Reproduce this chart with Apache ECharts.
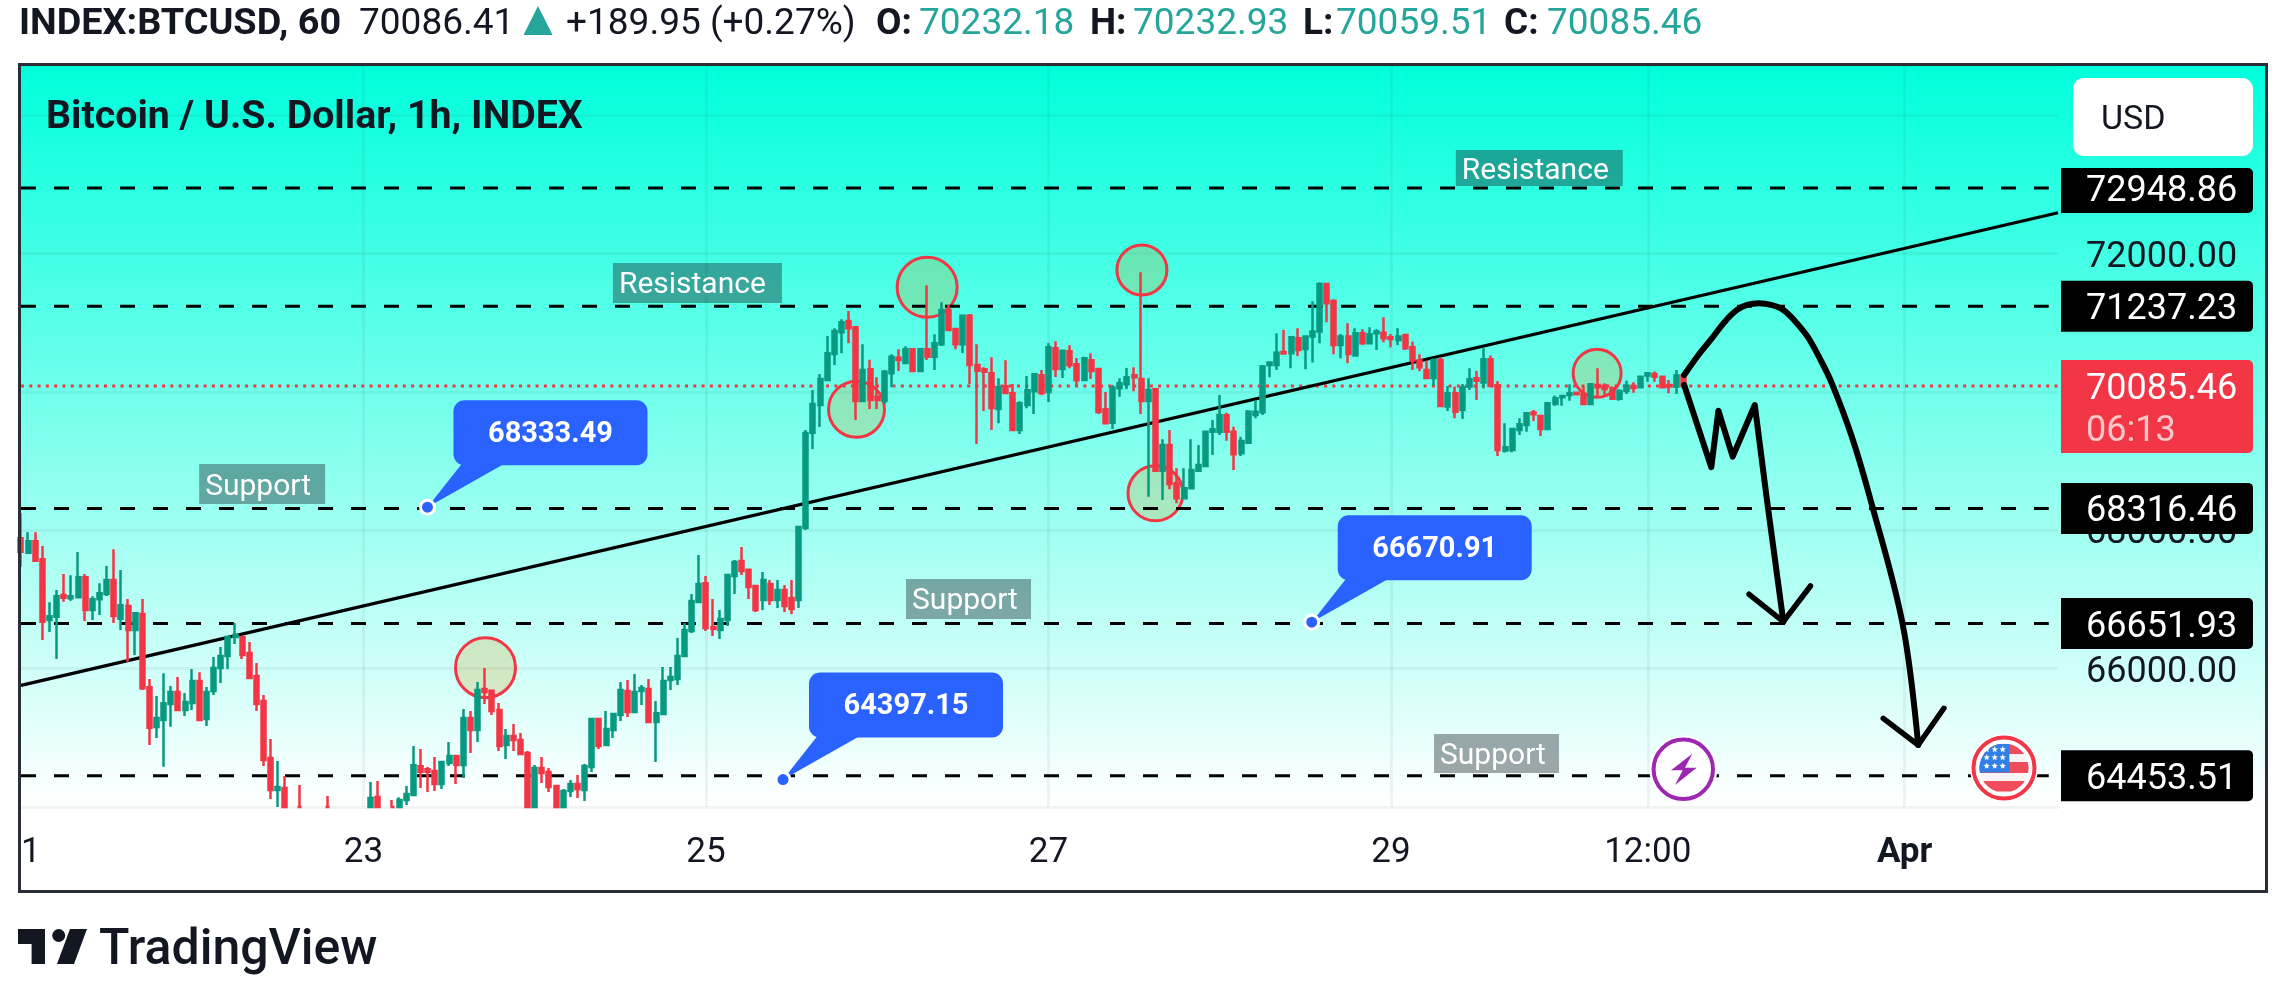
<!DOCTYPE html>
<html><head><meta charset="utf-8">
<style>html,body{margin:0;padding:0;background:#fff}#c{width:2283px;height:1002px}</style>
<script src="https://cdn.jsdelivr.net/npm/echarts@6/dist/echarts.min.js"></script>
</head><body><div id="c"></div>
<script>
const opens=[67884,67677,67840,67580,66703,66751,67065,67016,67031,67320,
66848,67002,67079,67282,66723,66906,66559,66790,65730,65156,
65258,65489,65662,65402,65503,65821,65272,65677,66009,66183,
66458,66458,66226,65894,65532,64708,64246,64275,63750,63700,
63900,63800,63720,63780,63900,63820,63750,63700,63760,63800,
64145,63830,63850,63950,64101,64173,64588,64544,64520,64333,
64636,64737,64607,65287,65113,65706,65682,65402,64896,65026,
64969,64781,63950,64564,64506,64304,63950,64231,64333,64246,
64578,65272,64896,65113,65330,65677,65373,65677,65706,65229,
65344,65836,65850,66183,66544,66963,67233,66602,66559,66703,
67339,67556,67431,67195,66992,67224,66992,67137,67021,66992,
68033,69411,69811,70173,70548,70862,71025,70934,69869,70327,
69932,69869,70269,70495,70418,70616,70303,70616,70510,70688,
71185,70910,70688,71103,70389,70327,70269,69753,70081,69980,
69450,69811,70009,70240,69999,70630,70332,70587,70399,70173,
70457,70332,69749,69556,70052,70110,70240,70187,69869,70038,
68862,69233,68679,68462,68606,68862,68929,69426,69426,69662,
69426,69112,69267,69667,69706,70390,70390,70578,70559,70775,
70621,70800,70872,71561,71315,70679,70800,70525,70848,70703,
70848,70857,70790,70751,70824,70645,70453,70318,70202,70462,
69788,69980,69739,70077,70197,70135,70472,70096,69152,69161,
69450,69523,69701,69653,69465,69826,69923,69956,69990,69971,
69826,70101,70091,70053,69903,70014,70086,70067,70236,70260,
70221,70101,70077,70232.18];
const closes=[67691,67840,67561,66679,66756,67045,67026,67045,67320,66848,
67002,67089,67282,66761,66915,66559,66800,65715,65147,65287,
65499,65662,65402,65518,65821,65258,65662,66009,66183,66458,
66486,66197,65865,65489,64679,64246,64289,63750,63700,63900,
63800,63720,63780,63900,63820,63750,63700,63760,63830,64130,
63830,63900,63990,64101,64188,64602,64511,64511,64333,64650,
64737,64607,65287,65113,65691,65662,65388,64882,65026,64969,
64766,63900,64564,64491,64289,63950,64231,64333,64260,64593,
65272,64882,65128,65344,65691,65373,65662,65720,65229,65354,
65821,65879,66183,66559,66978,67224,66588,66573,66718,67354,
67542,67412,67180,66848,67282,66992,67137,66906,66862,68048,
69407,69826,70187,70558,70881,71006,70919,69869,70317,69883,
69883,70293,70510,70462,70616,70303,70616,70510,70703,71185,
70895,70688,71103,70389,70307,70293,69768,70067,69985,69450,
69835,70023,70254,69980,70645,70332,70597,70385,70168,70486,
70303,69710,69546,70062,70124,70211,70211,69869,70028,68862,
69233,68669,68462,68606,68872,68944,69426,69459,69667,69426,
69098,69291,69715,69715,70366,70424,70568,70554,70790,70607,
70800,70872,71561,71281,70679,70800,70549,70848,70703,70833,
70872,70775,70766,70800,70631,70453,70356,70202,70462,69797,
69980,69715,70067,70183,70163,70472,70086,69161,69200,69465,
69532,69691,69677,69465,69836,69908,69942,69980,69966,69826,
70110,70067,70043,69903,70014,70091,70057,70221,70270,70221,
70067,70077,70236,70085.46];
const lows=[67474,67677,67561,66414,66530,66139,66968,66983,67031,66689,
66703,66776,67050,66660,66559,66101,66197,65691,64896,64997,
64583,65161,65388,65315,65402,65243,65171,65619,65793,65995,
66356,66139,65850,65388,64593,64116,63800,63600,63500,63550,
63650,63600,63550,63650,63700,63620,63560,63580,63650,63700,
63700,63720,63760,63850,64029,64173,64275,64217,64231,64260,
64593,64333,64419,64781,64940,65489,65330,64810,64694,64810,
64766,63800,63850,64347,64217,63850,63860,64145,64130,64087,
64506,64838,64896,64997,65243,65301,65359,65475,65214,64650,
65344,65691,65764,66183,66515,66963,66544,66472,66429,66617,
67079,67354,67007,66819,66848,66920,66877,66819,66790,66877,
68004,69175,69493,70173,70389,70558,70703,69594,69869,69753,
69753,69826,70067,70303,70418,70303,70303,70462,70317,70664,
70895,70616,70563,70115,69247,69724,69450,69546,69985,69450,
69392,69763,69681,69956,69855,70216,70201,70341,70081,70173,
70187,69681,69537,69464,69932,70038,70009,69681,68486,68862,
68438,68592,68390,68447,68606,68862,68929,69088,69377,69296,
68872,69074,69267,69619,69667,70212,70318,70554,70342,70520,
70327,70424,70703,71007,70544,70486,70414,70515,70679,70694,
70607,70718,70645,70679,70607,70318,70298,70202,70086,69788,
69725,69619,69609,70029,69884,70053,70067,69074,69123,69128,
69378,69426,69580,69364,69465,69802,69802,69874,69956,69826,
69826,69932,69952,69893,69874,69971,69990,70062,70149,70149,
70053,69980,69971,70059.51];
const highs=[68245,67971,67971,67773,66959,67137,67368,67349,67686,67368,
67045,67233,67484,67725,67426,67007,66819,67007,65850,65605,
65932,65749,65879,65648,65995,65947,65735,66168,66313,66472,
66660,66458,66385,66082,65619,64983,64665,64448,63950,64318,
63980,63950,63960,64159,63970,63930,63900,63920,63960,64361,
64376,63990,64101,64140,64304,64882,64838,64578,64723,64650,
64940,64737,65417,65388,65807,66009,65691,65503,65128,65200,
65070,64810,64607,64723,64564,64304,64260,64390,64463,64622,
65272,65272,65388,65354,65807,65836,65923,65764,65850,65532,
66024,66024,66443,66660,67079,67643,67339,67007,66848,67368,
67571,67759,67441,67195,67397,67282,67282,67209,67282,68048,
69450,70028,70259,70809,70919,71050,71170,70948,70688,70467,
70211,70317,70544,70616,70659,70616,70616,71541,70833,71295,
71257,70919,71112,71127,70688,70356,70500,70197,70457,70115,
69864,70230,70259,70317,70703,70732,70597,70674,70491,70510,
70558,70332,69999,70100,70197,70346,70356,71729,70197,70052,
69315,69450,68896,68896,69315,69233,69435,69594,69956,69700,
69498,69353,69739,69884,70390,70438,70848,70896,70800,70920,
70800,71310,71585,71571,71339,70838,70992,70920,70906,70934,
70906,71079,70838,70920,70833,70727,70544,70453,70482,70501,
70086,70077,70115,70342,70303,70631,70525,70159,69547,69474,
69619,69691,69739,69667,69845,69947,69952,70110,69990,70077,
70125,70342,70125,70077,70038,70163,70139,70231,70270,70294,
70231,70173,70318,70232.93];

// hours since 21 Mar 00:00
const tickHours=[0,48,96,144,192,228,264];
const tickLabels=['1','23','25','27','29','12:00','Apr'];
const barCount=286;
const hourLabels=[];
for(let i=0;i<barCount;i++){const d=new Date(Date.UTC(2024,2,21,i));hourLabels.push(d.toISOString().slice(5,16));}

const priceFloor=64000;
const levelPrices=[72948.86,71237.23,68316.46,66651.93,64453.51];
const levelEndHour=284.2;
const lastPrice=70085.46;
const trendLine=[[0,65759],[285.5,72591]];
const domeCurve=[[233.1,70245],[235.1,70534],[236.8,70751],[238.8,71016],[240.5,71185],[241.9,71257],[243.6,71281],[245.3,71257],[247,71185],[248.7,71016],[250.4,70799],[252.1,70486],[253.8,70125],[256.6,69353],[259.1,68486],[263.7,66656],[265.9,64896]];
const domeArrow=[[261.0,65282],[265.9,64896],[269.5,65427]];
const zigzag=[[233.1,70100],[236.9,68911],[237.9,69729],[239.9,69064],[243.0,69811],[244.7,68438],[247.0,66679]];
const zigzagArrow=[[242.2,67075],[247.0,66679],[250.8,67195]];
const circleHours=[127,117.1,157.1,159,220.9,65.1];
const circlePrices=[71513,69749,71763,68535,70270,66014];
const circleSizes=[60,56,50,55,48,60];
const tagTexts=['Resistance','Resistance','Support','Support','Support'];
const tagHours=[94.8,212.8,33.8,132.8,206.8];
const tagPrices=[71575,73237,68669,67007,64773];
const calloutHours=[56.97,180.9,106.8];
const calloutPrices=[68333.49,66670.91,64397.15];
const axisTagPrices=[72948.86,71237.23,68316.46,66651.93,64453.51,70085.46];

const FONT='Roboto, "Noto Sans", sans-serif';
const INK='#131722', GREEN='#089981', RED='#f23645', TEAL='#26a69a', BLUE='#2962ff';

const tagGeom=[[-20,25],[-25.5,25.5],[-25.5,25.5],[-25.5,25.5],[-25.5,25.5],[-26,67]];
function axisTagItem(params,api){
  const i=params.dataIndex, c=api.coord([api.value(0),api.value(1)]), g=tagGeom[i], isLast=i===5;
  const x0=2061,x1=2253,t=c[1]+g[0],b=c[1]+g[1];
  const kids=[{type:'rect',shape:{x:x0,y:t,width:x1-x0,height:b-t,r:[0,5,5,0]},style:{fill:isLast?RED:'#000'}},
    {type:'text',style:{x:2086,y:c[1]+4,text:axisTagPrices[i].toFixed(2),fill:'#fff',font:'400 36px '+FONT,textAlign:'left',textVerticalAlign:'middle'}}];
  if(isLast)kids.push({type:'text',style:{x:2086,y:c[1]+46,text:'06:13',fill:'rgba(255,255,255,.72)',font:'400 36px '+FONT,textAlign:'left',textVerticalAlign:'middle'}});
  return {type:'group',children:kids};
}
const tagW=[169,167,126,125,125],tagH=[40,36,40,40,39];
function tagItem(params,api){
  const i=params.dataIndex,c=api.coord([api.value(0),api.value(1)]);
  return {type:'group',children:[
    {type:'rect',shape:{x:c[0]-tagW[i]/2,y:c[1]-tagH[i]/2,width:tagW[i],height:tagH[i]},style:{fill:'rgba(19,23,34,.38)'}},
    {type:'text',style:{x:c[0]-tagW[i]/2+6,y:c[1]+3,text:tagTexts[i],fill:'#fff',font:'400 30px '+FONT,textAlign:'left',textVerticalAlign:'middle'}}
  ]};
}
function calloutItem(params,api){
  const i=params.dataIndex,c=api.coord([api.value(0),api.value(1)]);
  const x=c[0]+26,y=c[1]-107,w=194,h=65;
  return {type:'group',children:[
    {type:'polygon',shape:{points:[[c[0],c[1]],[x+8,y+h-1],[x+50,y+h-1]]},style:{fill:BLUE}},
    {type:'rect',shape:{x:x,y:y,width:w,height:h,r:11},style:{fill:BLUE}},
    {type:'circle',shape:{cx:c[0],cy:c[1],r:7},style:{fill:BLUE,stroke:'#fff',lineWidth:3}},
    {type:'text',style:{x:x+w/2,y:y+h/2+2,text:calloutPrices[i].toFixed(2),fill:'#fff',font:'700 29px '+FONT,textAlign:'center',textVerticalAlign:'middle'}}
  ]};
}
function lineSeries(name,data,style,extra){
  return Object.assign({name,type:'line',xAxisIndex:1,yAxisIndex:0,data,symbol:'none',silent:true,lineStyle:style},extra||{});
}
function band(cx,cy,r,y0,y1,xmax){
  const L=[],R=[];
  for(let y=y0;y<=y1+.001;y+=Math.max(.5,(y1-y0)/24)){
    const s=Math.sqrt(Math.max(0,r*r-(y-cy)*(y-cy)));
    L.push([cx-s,y]);R.unshift([Math.min(cx+s,xmax),y]);
  }
  return L.concat(R);
}
function star(cx,cy,r){
  const p=[];for(let k=0;k<10;k++){const a=-Math.PI/2+k*Math.PI/5,q=k%2?r*.42:r;p.push([cx+q*Math.cos(a),cy+q*Math.sin(a)]);}
  return p;
}
const txt=(x,y,text,fill,weight,size)=>({type:'text',z:50,style:{x,y,text,fill,font:weight+' '+size+'px '+FONT,textAlign:'left',textVerticalAlign:'middle'}});
const poly=(points,fill,z)=>({type:'polygon',z:z||40,shape:{points},style:{fill}});

const headerY=25;
const graphics=[
  {type:'rect',z:-10,shape:{x:20,y:65,width:2246,height:742},style:{fill:new echarts.graphic.LinearGradient(0,0,0,1,[{offset:0,color:'#00ffdc'},{offset:1,color:'#ffffff'}])}},
  txt(19,headerY,'INDEX:BTCUSD, 60',INK,700,37.8),
  txt(359,headerY,'70086.41',INK,400,37),
  poly([[538,6],[523.5,35],[552.6,35]],TEAL),
  txt(566,headerY,'+189.95 (+0.27%)',INK,400,37),
  txt(876,headerY,'O:',INK,700,37),txt(919,headerY,'70232.18',TEAL,400,37),
  txt(1090,headerY,'H:',INK,700,37),txt(1133,headerY,'70232.93',TEAL,400,37),
  txt(1303,headerY,'L:',INK,700,37),txt(1336,headerY,'70059.51',TEAL,400,37),
  txt(1504,headerY,'C:',INK,700,37),txt(1547,headerY,'70085.46',TEAL,400,37),
  txt(46,118.5,'Bitcoin / U.S. Dollar, 1h, INDEX',INK,700,39.3),
  {type:'rect',z:40,shape:{x:2073,y:78,width:180,height:78,r:11},style:{fill:'#fff'}},
  txt(2101,120,'USD',INK,400,34),
  // event icons
  {type:'circle',z:40,shape:{cx:1683.3,cy:769.3,r:34},style:{fill:'#fff'}},
  {type:'circle',z:41,shape:{cx:1683.3,cy:769.3,r:29.7},style:{fill:'#fff',stroke:'#9c27b0',lineWidth:4}},
  poly([[1692.3,753.7],[1671,770.3],[1682.7,770.3],[1675,785],[1696.7,767.7],[1685,767.7]],'#9c27b0',42),
  {type:'circle',z:40,shape:{cx:2004,cy:768,r:34},style:{fill:'#fff'}},
  {type:'circle',z:41,shape:{cx:2004,cy:768,r:30.5},style:{fill:'#fff',stroke:RED,lineWidth:4}},
  {type:'circle',z:42,shape:{cx:2004,cy:768,r:24.5},style:{fill:'#f8f4f5'}},
  poly(band(2004,768,24.5,744,754,2030),'#ef4d5c',43),
  poly(band(2004,768,24.5,762,773,2030),'#ef4d5c',43),
  poly(band(2004,768,24.5,781,791.5,2030),'#ef4d5c',43),
  poly(band(2004,768,24.5,744,772.5,2009.3),'#2f7fe6',44),
  // logo
  poly([[18,929],[45,929],[45,964],[31.6,964],[31.6,944],[18,944]],INK),
  {type:'circle',z:40,shape:{cx:58.7,cy:935.5,r:6.5},style:{fill:INK}},
  poly([[70,929],[87,929],[74,964],[57,964]],INK),
  txt(99,951.5,'TradingView',INK,500,50),
  // frame
  {type:'rect',z:60,shape:{x:19.5,y:64.5,width:2247,height:827},style:{fill:'none',stroke:'#2a2e39',lineWidth:3}}
];
[[1986.7,749.5],[1994.7,749.5],[2002.7,749.5],[1986.7,757.5],[1994.7,757.5],[2002.7,757.5],[1986.7,766],[1994.7,766],[2002.7,766]].forEach(s=>graphics.push(poly(star(s[0],s[1],3.4),'#fff',45)));

// The pane stops at its lower edge: parts of a bar under it are cut there, wholly hidden bars draw nothing.
const candleRows=opens.map((o,i)=>highs[i]<priceFloor?['-','-','-','-']:[o,closes[i],lows[i],highs[i]].map(v=>Math.max(v,priceFloor)));

const series=[
  {name:'circles',type:'scatter',xAxisIndex:1,yAxisIndex:0,z:1,silent:true,
   data:circleHours.map((h,i)=>[h,circlePrices[i],circleSizes[i]]),
   symbolSize:v=>v[2],itemStyle:{color:'rgba(215,163,45,.25)',borderColor:RED,borderWidth:3,opacity:1}},
  ...levelPrices.map(p=>lineSeries('level '+p,[[0,p],[levelEndHour,p]],{color:'#000',width:3,type:[15,18],cap:'butt'},{z:2})),
  lineSeries('last',[[0,lastPrice],[285.5,lastPrice]],{color:RED,width:3,type:[3,5.3]},{z:2}),
  lineSeries('trend',trendLine,{color:'#000',width:3.2},{z:2}),
  {name:'BTCUSD',type:'candlestick',xAxisIndex:0,yAxisIndex:0,z:3,silent:true,barWidth:4.5,
   data:candleRows,
   itemStyle:{color:GREEN,color0:RED,borderColor:GREEN,borderColor0:RED,borderWidth:2.5}},
  lineSeries('dome',domeCurve,{color:'#000',width:6,cap:'round',join:'round'},{z:4,smooth:.35}),
  lineSeries('domeArrow',domeArrow,{color:'#000',width:5.5,cap:'round',join:'round'},{z:4}),
  lineSeries('zigzag',zigzag,{color:'#000',width:6,cap:'round',join:'round'},{z:4}),
  lineSeries('zigzagArrow',zigzagArrow,{color:'#000',width:5.5,cap:'round',join:'round'},{z:4}),
  {name:'tags',type:'custom',xAxisIndex:1,yAxisIndex:0,z:5,silent:true,data:tagHours.map((h,i)=>[h,tagPrices[i]]),encode:{x:0,y:1},renderItem:tagItem},
  {name:'callouts',type:'custom',xAxisIndex:1,yAxisIndex:0,z:5,silent:true,data:calloutHours.map((h,i)=>[h,calloutPrices[i]]),encode:{x:0,y:1},renderItem:calloutItem},
  {name:'axisTags',type:'custom',xAxisIndex:1,yAxisIndex:0,z:6,silent:true,data:axisTagPrices.map(p=>[285.5,p]),encode:{x:0,y:1},renderItem:axisTagItem}
];

const chart=echarts.init(document.getElementById('c'),null,{width:2283,height:1002,renderer:'canvas'});
const gridLine={show:true,lineStyle:{color:'rgba(42,46,57,.06)',width:3}};
chart.setOption({
  animation:false,backgroundColor:'#fff',
  grid:{left:17.43,top:65,width:2040.61,height:742,containLabel:false},
  xAxis:[{type:'category',data:hourLabels.map((v,i)=>i===0?{value:v,textStyle:{align:'left'}}:v),boundaryGap:true,
     axisLine:{show:false},axisTick:{show:false,alignWithLabel:true},
     splitLine:Object.assign({interval:(i)=>tickHours.includes(i)&&i>0,alignWithLabel:true},gridLine),
     axisLabel:{interval:(i)=>tickHours.includes(i),margin:29,fontFamily:'Roboto',fontSize:35,color:INK,hideOverlap:false,
       formatter:(v,i)=>tickLabels[tickHours.indexOf(i)]===undefined?'':(tickLabels[tickHours.indexOf(i)]==='Apr'?'{b|Apr}':tickLabels[tickHours.indexOf(i)]),
       rich:{b:{fontFamily:'Roboto',fontSize:35,fontWeight:700,color:INK}}}},
    {type:'value',min:-.5,max:285.5,show:false,splitLine:{show:false}}],
  yAxis:{type:'value',position:'right',min:64000,max:74726,interval:2000,scale:true,
     axisLine:{show:false},axisTick:{show:false},splitLine:gridLine,
     axisLabel:{margin:28,color:INK,showMinLabel:false,showMaxLabel:false,formatter:v=>'{v|'+v.toFixed(2)+'}',
       rich:{v:{fontFamily:'Roboto',fontSize:36,color:INK,padding:[8,0,0,0]}}}},
  graphic:{elements:graphics},
  series
});
</script></body></html>
